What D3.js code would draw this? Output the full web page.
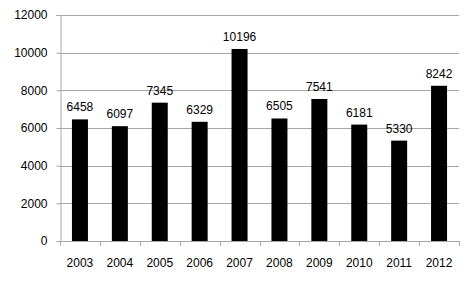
<!DOCTYPE html>
<html>
<head>
<meta charset="utf-8">
<script src="https://cdn.jsdelivr.net/npm/d3@7"></script>
<style>
  body { margin: 0; background: #fff; }
  text { font-family: "Liberation Sans", Arial, sans-serif; font-size: 12px; fill: #000; }
</style>
</head>
<body>
<div id="chart"></div>
<script>
// Data
const years = ['2003', '2004', '2005', '2006', '2007', '2008', '2009', '2010', '2011', '2012'];
const counts = [6458, 6097, 7345, 6329, 10196, 6505, 7541, 6181, 5330, 8242];
const yTicks = [0, 2000, 4000, 6000, 8000, 10000, 12000];

let w = 474, h = 284,
  margin = {top: 15, right: 15, bottom: 43, left: 60},
  x = d3.scaleBand().domain(years).range([margin.left, w - margin.right]),
  y = d3.scaleLinear().domain([0, 12000]).range([h - margin.bottom, margin.top]),
  barW = 16;

let svg = d3.select('#chart').append('svg')
  .attr('width', w)
  .attr('height', h);

// Gridlines
svg.append('g')
  .selectAll('line')
  .data(yTicks.slice(1))
  .enter().append('line')
  .attr('x1', margin.left).attr('x2', w - margin.right)
  .attr('y1', d => Math.round(y(d)) + 0.5).attr('y2', d => Math.round(y(d)) + 0.5)
  .attr('stroke', '#a6a6a6');

// Y axis
let yAxis = svg.append('g')
  .attr('transform', 'translate(' + (margin.left + 0.5) + ',0)')
  .call(d3.axisLeft(y).tickValues(yTicks).tickFormat(d3.format('d')).tickSize(4).tickPadding(9));
yAxis.selectAll('line, path').attr('stroke', '#a6a6a6');
yAxis.selectAll('text').style('font-size', '12px');

// X axis
let ticksX = years.map(d => x(d)).concat(w - margin.right);
let xg = svg.append('g');
xg.append('line')
  .attr('x1', margin.left).attr('x2', w - margin.right)
  .attr('y1', y(0) + 0.5).attr('y2', y(0) + 0.5)
  .attr('stroke', '#a6a6a6');
xg.selectAll('.tk')
  .data(ticksX)
  .enter().append('line')
  .attr('x1', d => Math.round(d) + 0.5).attr('x2', d => Math.round(d) + 0.5)
  .attr('y1', y(0)).attr('y2', y(0) + 5)
  .attr('stroke', '#a6a6a6');
xg.selectAll('text')
  .data(years)
  .enter().append('text')
  .attr('x', d => x(d) + x.bandwidth() / 2)
  .attr('y', y(0) + 26)
  .attr('text-anchor', 'middle')
  .text(d => d);

// Bars
svg.selectAll('.bar')
  .data(counts)
  .enter().append('rect')
  .attr('x', (d, i) => x(years[i]) + x.bandwidth() / 2 - barW / 2)
  .attr('y', d => y(d))
  .attr('width', barW)
  .attr('height', d => y(0) - y(d))
  .attr('fill', '#000');

// Value labels
svg.selectAll('.lbl')
  .data(counts)
  .enter().append('text')
  .attr('x', (d, i) => x(years[i]) + x.bandwidth() / 2)
  .attr('y', d => y(d) - 8)
  .attr('text-anchor', 'middle')
  .text(d => d);
</script>
</body>
</html>
